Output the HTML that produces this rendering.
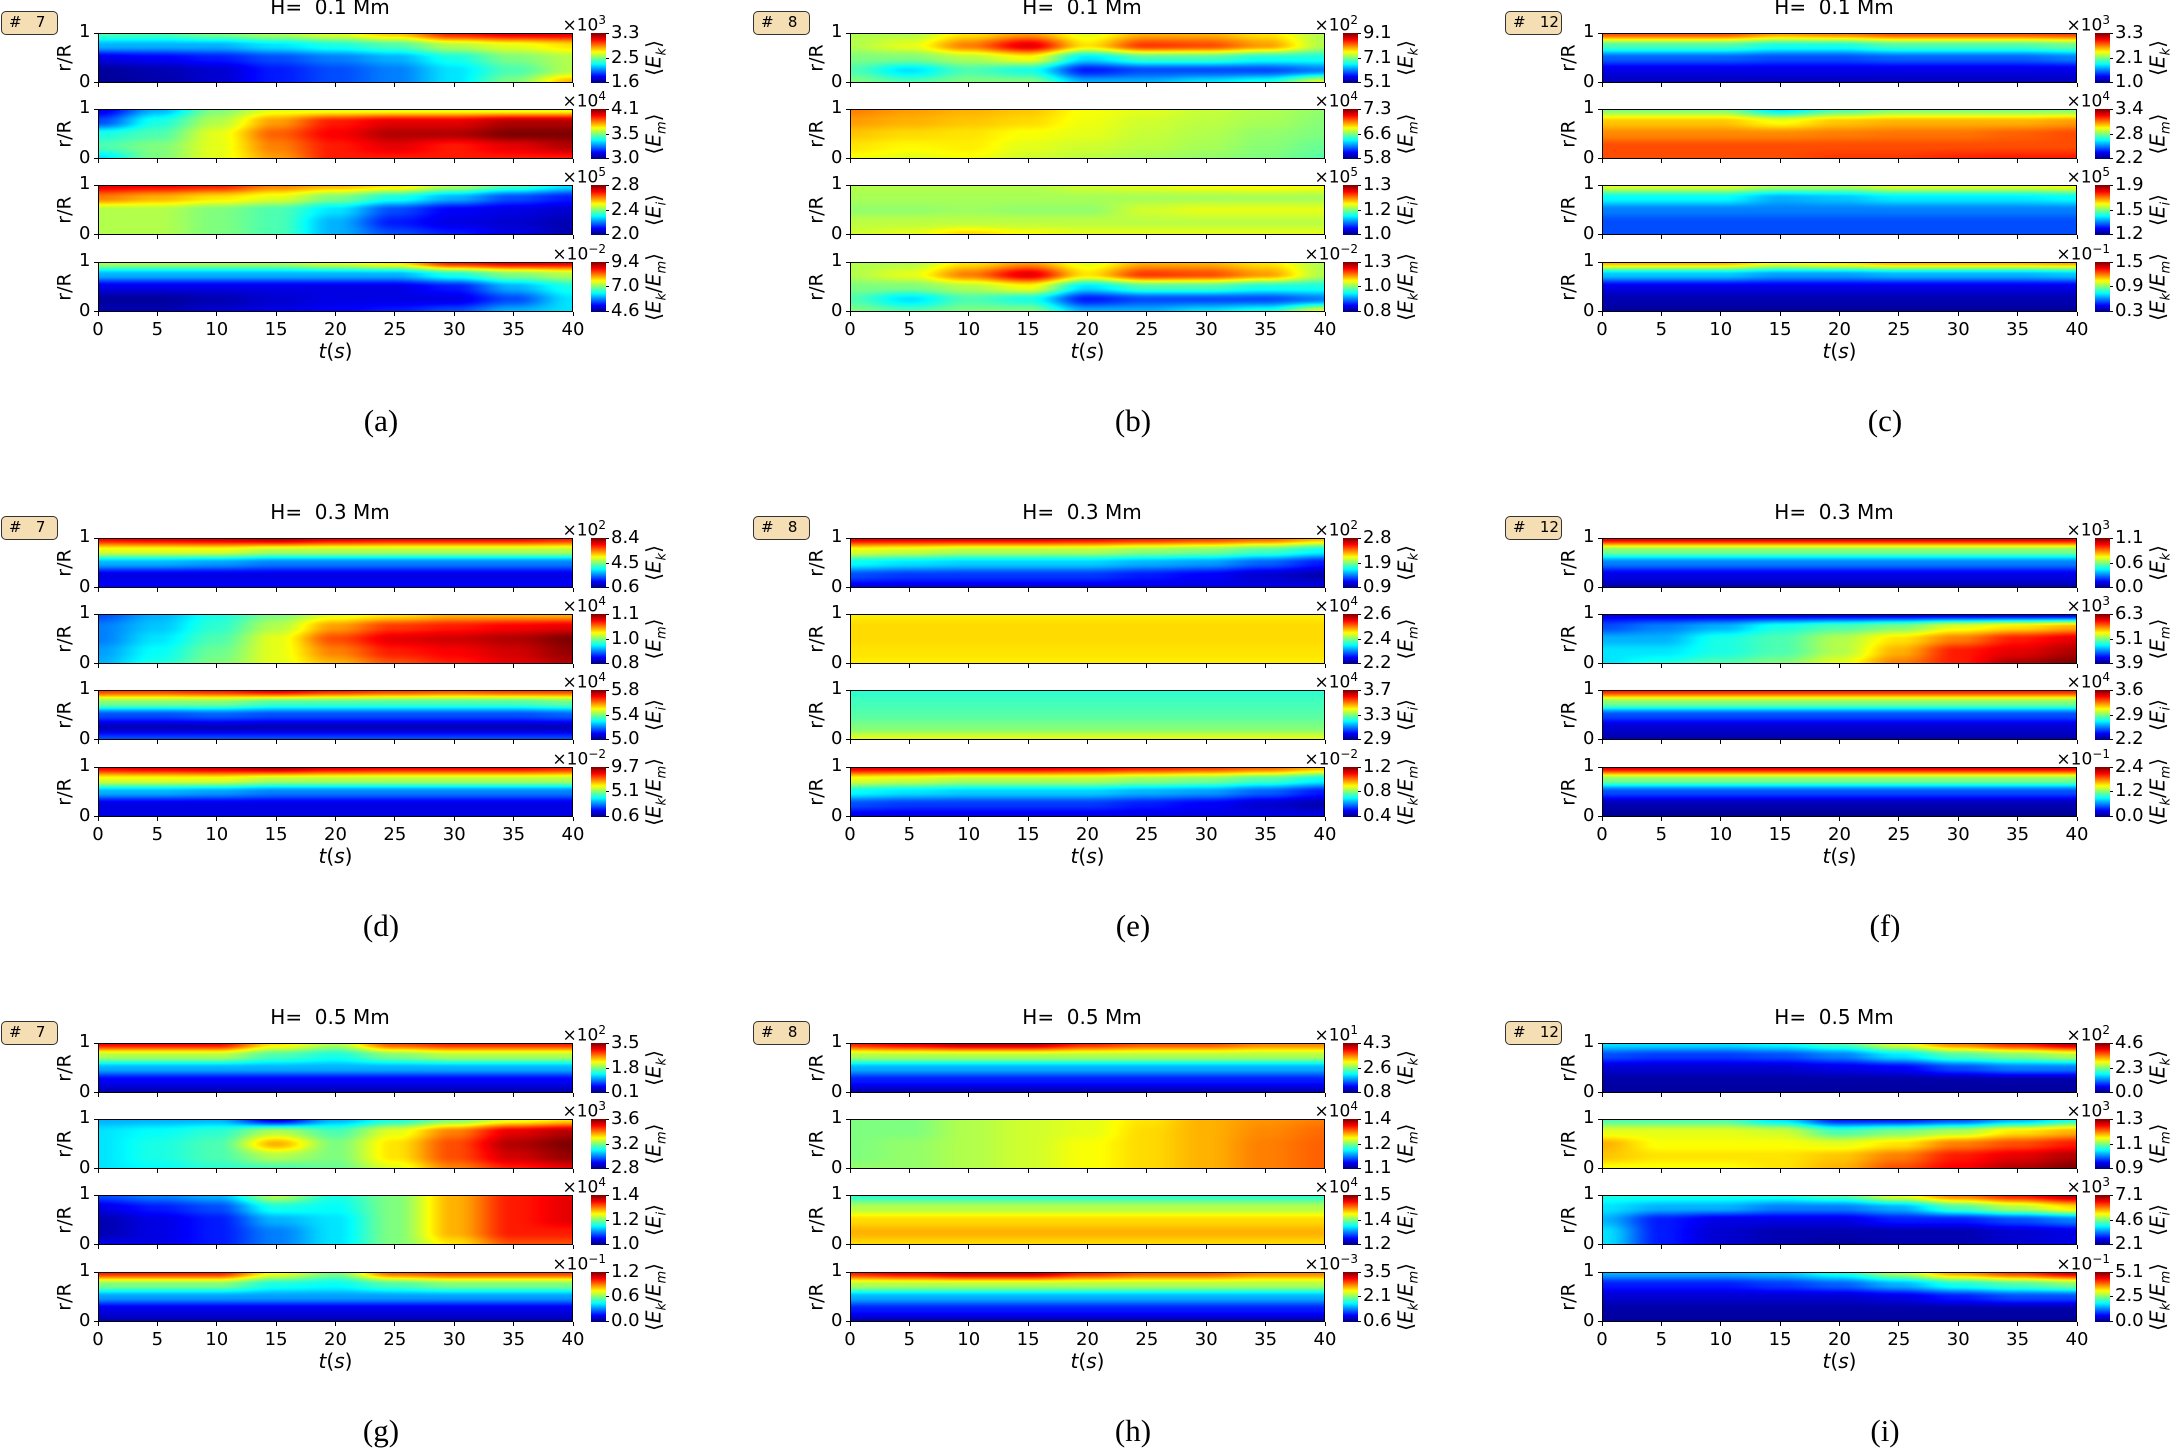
<!DOCTYPE html>
<html><head><meta charset="utf-8">
<style>
html,body{margin:0;padding:0;background:#fff;}
#root{position:relative;width:2171px;height:1448px;overflow:hidden;background:#fff;font-family:"DejaVu Sans","Liberation Sans",sans-serif;color:#000;}
.t{position:absolute;white-space:nowrap;line-height:1;}
canvas{position:absolute;}
.box{position:absolute;border:1px solid #000;box-sizing:border-box;}
.tick{position:absolute;background:#000;}
.badge{position:absolute;background:#f5deb3;border:1.5px solid #333;border-radius:5px;box-sizing:border-box;font-size:16px;}
.rot{position:absolute;transform:translate(-50%,-50%) rotate(-90deg);white-space:nowrap;line-height:1;}
.cap{position:absolute;font-family:"Liberation Serif","DejaVu Serif",serif;font-size:31px;transform:translateX(-50%);}
</style></head><body><div id="root"></div>
<script>
function jet(v){v=Math.max(0,Math.min(1,v));
 function c(x){return Math.max(0,Math.min(1,x));}
 var r=c(1.5-Math.abs(4*v-3)),g=c(1.5-Math.abs(4*v-2)),b=c(1.5-Math.abs(4*v-1));
 return [r*255|0,g*255|0,b*255|0];}
function u(n,a){var r=[];for(var i=0;i<9;i++)r.push(a);return r;}
function rows(a,b,c,d,e){return [a,b,c,d,e].map(function(x){return typeof x==="number"?u(9,x):x;});}
var bEk=rows([.55,.55,.65,.72,.6,.7,.7,.65,.55],[.55,.6,.75,.9,.65,.82,.8,.72,.55],[.5,.5,.55,.62,.35,.45,.45,.4,.4],[.45,.35,.45,.4,.15,.2,.2,.2,.25],[.5,.45,.5,.5,.3,.3,.35,.4,.6]);
var P=[
{b:"7",H:"0.1",cap:"(a)",s:[
 {m:"3",lab:["3.3","2.5","1.6"],L:"E_k",g:rows([.45,.45,.5,.55,.6,.68,.85,.9,.9],[.3,.3,.3,.35,.4,.45,.55,.6,.65],[.1,.12,.15,.2,.25,.3,.4,.5,.55],[.03,.05,.08,.15,.2,.25,.35,.45,.55],[.02,.04,.08,.15,.2,.25,.35,.5,.7])},
 {m:"4",lab:["4.1","3.5","3.0"],L:"E_m",g:rows([.1,.3,.5,.6,.6,.6,.6,.6,.6],[.2,.4,.55,.72,.85,.9,.9,.95,.95],[.4,.45,.6,.78,.88,.95,.95,1,1],[.45,.5,.6,.75,.85,.9,.85,.9,.95],[.35,.5,.6,.72,.85,.85,.85,.85,.85])},
 {m:"5",lab:["2.8","2.4","2.0"],L:"E_i",g:rows([.9,.88,.85,.75,.7,.65,.55,.45,.35],[.75,.7,.65,.6,.5,.4,.3,.2,.15],[.55,.55,.5,.45,.35,.2,.12,.1,.08],[.55,.55,.5,.45,.3,.15,.1,.08,.05],[.55,.55,.5,.45,.3,.2,.15,.1,.05])},
 {m:"−2",lab:["9.4","7.0","4.6"],L:"E_k/E_m",g:rows([.55,.55,.55,.55,.6,.65,.85,.9,.9],[.3,.3,.3,.3,.3,.3,.4,.5,.55],[.1,.1,.1,.1,.1,.1,.15,.3,.4],[.03,.03,.05,.08,.1,.1,.1,.2,.35],[.05,.05,.08,.1,.12,.15,.2,.3,.35])}]},
{b:"8",H:"0.1",cap:"(b)",s:[
 {m:"2",lab:["9.1","7.1","5.1"],L:"E_k",g:bEk},
 {m:"4",lab:["7.3","6.6","5.8"],L:"E_m",g:rows([.75,.72,.7,.68,.62,.6,.57,.55,.52],[.72,.7,.68,.66,.61,.58,.56,.54,.51],[.68,.66,.65,.62,.6,.57,.55,.52,.5],[.65,.63,.64,.6,.58,.56,.54,.51,.48],[.62,.6,.62,.58,.56,.54,.52,.5,.46])},
 {m:"5",lab:["1.3","1.2","1.0"],L:"E_i",g:rows([.55,.55,.55,.55,.58,.6,.62,.63,.62],.54,[.52,.52,.53,.52,.52,.58,.6,.6,.6],.56,[.58,.6,.66,.62,.6,.6,.6,.6,.6])},
 {m:"−2",lab:["1.3","1.0","0.8"],L:"E_k/E_m",g:bEk}]},
{b:"12",H:"0.1",cap:"(c)",s:[
 {m:"3",lab:["3.3","2.1","1.0"],L:"E_k",g:rows([.8,.8,.8,.72,.75,.8,.8,.8,.82],[.45,.45,.45,.4,.4,.45,.45,.45,.48],[.22,.22,.22,.2,.2,.22,.22,.22,.25],.1,.06)},
 {m:"4",lab:["3.4","2.8","2.2"],L:"E_m",g:rows([.5,.5,.5,.35,.45,.5,.5,.5,.5],[.68,.68,.68,.62,.68,.7,.7,.7,.72],[.74,.74,.74,.74,.75,.76,.76,.78,.8],.8,[.8,.8,.8,.8,.82,.82,.84,.85,.85])},
 {m:"5",lab:["1.9","1.5","1.2"],L:"E_i",g:rows([.6,.6,.6,.55,.55,.6,.6,.6,.62],[.38,.38,.38,.3,.32,.36,.36,.36,.38],.25,.2,.2)},
 {m:"−1",lab:["1.5","0.9","0.3"],L:"E_k/E_m",g:rows([.7,.7,.7,.62,.65,.7,.7,.7,.72],[.32,.32,.32,.28,.28,.3,.3,.3,.32],.1,.05,.03)}]},
{b:"7",H:"0.3",cap:"(d)",s:[
 {m:"2",lab:["8.4","4.5","0.6"],L:"E_k",g:rows([.88,.9,.92,.95,.9,.88,.88,.88,.85],[.6,.6,.6,.55,.55,.55,.55,.55,.55],[.3,.3,.28,.25,.25,.25,.25,.25,.25],.1,.12)},
 {m:"4",lab:["1.1","1.0","0.8"],L:"E_m",g:rows([.2,.3,.4,.5,.6,.65,.7,.7,.7],[.25,.32,.42,.55,.72,.82,.85,.88,.9],[.25,.35,.45,.6,.8,.9,.92,.95,1],[.28,.38,.48,.6,.75,.85,.88,.92,.98],[.3,.4,.5,.6,.7,.8,.85,.9,.95])},
 {m:"4",lab:["5.8","5.4","5.0"],L:"E_i",g:rows([.82,.82,.85,.9,.85,.82,.8,.82,.82],[.5,.5,.5,.45,.45,.45,.45,.45,.48],[.2,.2,.22,.2,.2,.2,.2,.2,.22],.06,.2)},
 {m:"−2",lab:["9.7","5.1","0.6"],L:"E_k/E_m",g:rows([.88,.9,.92,.95,.9,.88,.88,.88,.85],[.6,.6,.6,.55,.55,.55,.55,.55,.55],[.3,.3,.28,.25,.25,.25,.25,.25,.25],.1,.1)}]},
{b:"8",H:"0.3",cap:"(e)",s:[
 {m:"2",lab:["2.8","1.9","0.9"],L:"E_k",g:rows([.9,.9,.9,.9,.88,.85,.82,.78,.7],[.6,.58,.55,.55,.55,.52,.5,.45,.38],[.38,.35,.33,.33,.33,.3,.28,.22,.15],[.2,.18,.18,.18,.18,.15,.12,.08,.05],.1)},
 {m:"4",lab:["2.6","2.4","2.2"],L:"E_m",g:rows(.64,.66,.66,.65,.64)},
 {m:"4",lab:["3.7","3.3","2.9"],L:"E_i",g:rows(.42,.44,.46,.5,.6)},
 {m:"−2",lab:["1.2","0.8","0.4"],L:"E_k/E_m",g:rows([.9,.9,.9,.9,.88,.85,.82,.78,.7],[.6,.58,.55,.55,.55,.52,.5,.45,.38],[.38,.35,.33,.33,.33,.3,.28,.22,.15],[.2,.18,.18,.18,.18,.15,.12,.08,.05],.1)}]},
{b:"12",H:"0.3",cap:"(f)",s:[
 {m:"3",lab:["1.1","0.6","0.0"],L:"E_k",g:rows(.9,.5,.25,.1,.05)},
 {m:"3",lab:["6.3","5.1","3.9"],L:"E_m",g:rows(.1,[.2,.25,.3,.4,.45,.5,.6,.65,.7],[.3,.3,.4,.45,.55,.65,.75,.85,.9],[.35,.35,.4,.45,.55,.7,.85,.9,.95],[.35,.4,.45,.5,.6,.75,.85,.95,1])},
 {m:"4",lab:["3.6","2.9","2.2"],L:"E_i",g:rows(.85,.5,.2,.08,.05)},
 {m:"−1",lab:["2.4","1.2","0.0"],L:"E_k/E_m",g:rows(.9,.5,.2,.05,.02)}]},
{b:"7",H:"0.5",cap:"(g)",s:[
 {m:"2",lab:["3.5","1.8","0.1"],L:"E_k",g:rows([.88,.88,.88,.65,.55,.8,.85,.85,.85],[.55,.55,.55,.45,.4,.5,.55,.55,.55],[.3,.3,.3,.3,.3,.3,.3,.3,.3],.12,.05)},
 {m:"3",lab:["3.6","3.2","2.8"],L:"E_m",g:rows([.3,.3,.3,.1,.3,.4,.5,.6,.65],[.35,.38,.42,.55,.45,.6,.75,.9,.95],[.35,.4,.45,.7,.5,.65,.8,.95,1],[.35,.4,.45,.55,.5,.65,.8,.92,.98],[.35,.38,.42,.45,.48,.6,.75,.85,.9])},
 {m:"4",lab:["1.4","1.2","1.0"],L:"E_i",g:rows([.2,.25,.3,.55,.4,.5,.7,.85,.9],[.1,.15,.2,.4,.38,.5,.7,.85,.9],[.05,.1,.15,.3,.35,.5,.7,.85,.9],[.05,.1,.15,.25,.35,.5,.7,.85,.85],[.1,.1,.15,.25,.35,.5,.65,.8,.8])},
 {m:"−1",lab:["1.2","0.6","0.0"],L:"E_k/E_m",g:rows([.85,.85,.85,.62,.5,.78,.82,.82,.82],[.5,.5,.5,.4,.38,.45,.5,.5,.5],[.28,.28,.28,.28,.28,.28,.28,.28,.28],.1,.05)}]},
{b:"8",H:"0.5",cap:"(h)",s:[
 {m:"1",lab:["4.3","2.6","0.8"],L:"E_k",g:rows([.85,.9,.95,.95,.85,.8,.8,.75,.75],.55,.3,.15,.05)},
 {m:"4",lab:["1.4","1.2","1.1"],L:"E_m",g:rows([.5,.5,.55,.58,.6,.65,.7,.73,.75],[.5,.5,.55,.58,.6,.66,.7,.74,.77],[.5,.52,.55,.58,.62,.66,.7,.75,.78],[.5,.52,.55,.58,.62,.66,.7,.75,.78],[.52,.52,.55,.58,.62,.66,.7,.75,.78])},
 {m:"4",lab:["1.5","1.4","1.2"],L:"E_i",g:rows(.42,.55,.66,.7,.66)},
 {m:"−3",lab:["3.5","2.1","0.6"],L:"E_k/E_m",g:rows([.85,.9,.95,.95,.85,.8,.8,.75,.75],.55,.3,.15,.05)}]},
{b:"12",H:"0.5",cap:"(i)",s:[
 {m:"2",lab:["4.6","2.3","0.0"],L:"E_k",g:rows([.35,.35,.35,.38,.45,.6,.75,.85,.95],[.2,.18,.18,.2,.25,.35,.45,.5,.55],[.08,.08,.08,.08,.1,.12,.2,.25,.25],.04,.03)},
 {m:"3",lab:["1.3","1.1","0.9"],L:"E_m",g:rows([.45,.45,.45,.35,.15,.15,.2,.3,.4],[.6,.6,.6,.58,.45,.5,.55,.65,.7],[.7,.62,.62,.62,.6,.65,.75,.8,.85],[.68,.65,.65,.65,.68,.75,.85,.9,.95],[.62,.62,.62,.65,.7,.8,.88,.95,1])},
 {m:"3",lab:["7.1","4.6","2.1"],L:"E_i",g:rows([.4,.4,.4,.4,.45,.6,.75,.85,.95],[.35,.3,.3,.25,.25,.3,.45,.55,.65],[.3,.15,.1,.1,.1,.15,.15,.2,.25],[.35,.15,.08,.05,.05,.05,.05,.08,.1],[.35,.15,.08,.05,.03,.05,.05,.08,.1])},
 {m:"−1",lab:["5.1","2.5","0.0"],L:"E_k/E_m",g:rows([.3,.3,.3,.32,.4,.55,.72,.82,.92],[.15,.15,.15,.18,.22,.3,.4,.45,.5],[.08,.08,.08,.08,.08,.1,.15,.2,.2],.04,.03)}]}
];
var root=document.getElementById('root');
function add(tag,cls,css,html){var e=document.createElement(tag);if(cls)e.className=cls;e.style.cssText=css;if(html!=null)e.innerHTML=html;root.appendChild(e);return e;}
function sb(x){return "<sub style='font-size:13px'><i>"+x+"</i></sub>";}
function labHTML(L){
 if(L==="E_k")return "⟨<i>E</i>"+sb("k")+"⟩";
 if(L==="E_m")return "⟨<i>E</i>"+sb("m")+"⟩";
 if(L==="E_i")return "⟨<i>E</i>"+sb("i")+"⟩";
 return "⟨<i>E</i>"+sb("k")+"/<i>E</i>"+sb("m")+"⟩";}
var HX=98,HW=475,SH=50,ST=33,SD=76.2;
P.forEach(function(p,pi){
 var ox=(pi%3)*752, oy=Math.floor(pi/3)*505;
 add('div','badge','left:'+(ox+1)+'px;top:'+(oy+11)+'px;width:57px;height:24px;',"");
 add('div','t','left:'+(ox+9)+'px;top:'+(oy+15)+'px;font-size:15px;',"#&nbsp;&nbsp;&nbsp;"+p.b);
 add('div','t','left:'+(ox+330)+'px;top:'+(oy-3)+'px;font-size:20px;transform:translateX(-50%);',"H=&nbsp; "+p.H+" Mm");
 p.s.forEach(function(s,k){
  var y=oy+ST+k*SD, x=ox+HX;
  var cv=document.createElement('canvas');cv.width=HW;cv.height=SH;cv.style.left=x+'px';cv.style.top=y+'px';root.appendChild(cv);
  var ctx=cv.getContext('2d'),img=ctx.createImageData(HW,SH),g=s.g;
  for(var py=0;py<SH;py++){var fy=py/(SH-1)*4,r0=Math.min(3,Math.floor(fy)),ty=fy-r0;ty=ty*ty*(3-2*ty);
   for(var px=0;px<HW;px++){var fx=px/(HW-1)*8,c0=Math.min(7,Math.floor(fx)),tx=fx-c0;tx=tx*tx*(3-2*tx);
    var v=(g[r0][c0]*(1-tx)+g[r0][c0+1]*tx)*(1-ty)+(g[r0+1][c0]*(1-tx)+g[r0+1][c0+1]*tx)*ty;
    var c=jet(v),i=(py*HW+px)*4;img.data[i]=c[0];img.data[i+1]=c[1];img.data[i+2]=c[2];img.data[i+3]=255;}}
  ctx.putImageData(img,0,0);
  add('div','box','left:'+x+'px;top:'+y+'px;width:'+HW+'px;height:'+SH+'px;');
  for(var j=0;j<=8;j++)add('div','tick','left:'+(x+j*HW/8-0.5)+'px;top:'+(y+SH)+'px;width:1px;height:4px;');
  add('div','tick','left:'+(x-4)+'px;top:'+y+'px;width:4px;height:1px;');
  add('div','tick','left:'+(x-4)+'px;top:'+(y+SH-1)+'px;width:4px;height:1px;');
  add('div','t','left:'+(ox+79)+'px;top:'+(y-10)+'px;font-size:18px;',"1");
  add('div','t','left:'+(ox+79)+'px;top:'+(y+SH-10)+'px;font-size:18px;',"0");
  add('div','rot','left:'+(ox+65)+'px;top:'+(y+SH/2)+'px;font-size:19px;',"r/R");
  var cb=document.createElement('canvas');cb.width=15;cb.height=SH;cb.style.left=(ox+591)+'px';cb.style.top=y+'px';root.appendChild(cb);
  var c2=cb.getContext('2d');for(var q=0;q<SH;q++){var cc=jet(1-q/(SH-1));c2.fillStyle='rgb('+cc+')';c2.fillRect(0,q,15,1);}
  for(var m=0;m<3;m++){add('div','tick','left:'+(ox+606)+'px;top:'+(y+m*(SH-1)/2)+'px;width:3px;height:1px;');
   add('div','t','left:'+(ox+611)+'px;top:'+(y+m*(SH-1)/2-9)+'px;font-size:18px;',s.lab[m]);}
  add('div','t','left:'+(ox+606)+'px;top:'+(y-19)+'px;font-size:17px;transform:translateX(-100%);',"×10<sup style='font-size:12px'>"+s.m+"</sup>");
  add('div','rot','left:'+(ox+656)+'px;top:'+(y+SH/2)+'px;font-size:20px;',labHTML(s.L));
 });
 var by=oy+ST+3*SD+SH;
 for(var j=0;j<=8;j++)add('div','t','left:'+(ox+HX+j*HW/8)+'px;top:'+(by+9)+'px;font-size:18px;transform:translateX(-50%);',String(j*5));
 add('div','t','left:'+(ox+HX+HW/2)+'px;top:'+(by+29)+'px;font-size:20px;transform:translateX(-50%);',"<i>t</i>(<i>s</i>)");
 add('div','cap','left:'+(ox+381)+'px;top:'+(oy+403)+'px;',p.cap);
});
</script></body></html>
